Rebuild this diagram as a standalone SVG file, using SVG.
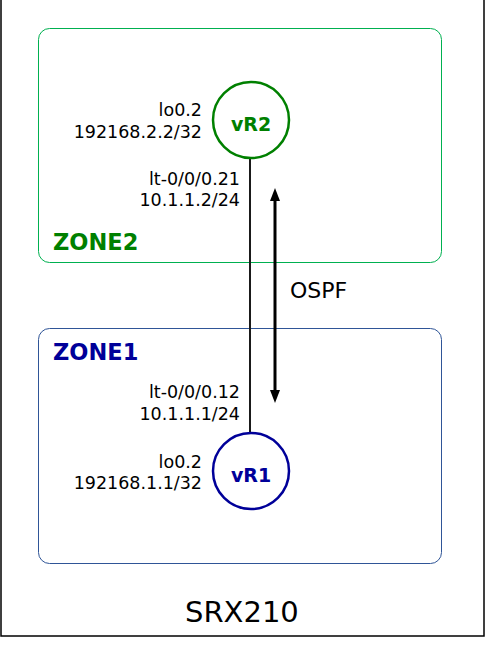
<svg xmlns="http://www.w3.org/2000/svg" width="486" height="651" viewBox="0 0 486 651">
<style>
text{font-family:"Comic Sans MS","DejaVu Sans",sans-serif}
.lbl{font-size:17.5px;fill:#000;text-anchor:end}
.zone{fill:#fff;stroke-width:1}
.node{fill:#fff;stroke-width:2.5}
.nt{font-size:19px;font-weight:bold;text-anchor:middle}
.zt{font-size:22.5px;font-weight:bold}
</style>
<defs>
<marker id="ah" markerWidth="13" markerHeight="10" refX="0" refY="5" viewBox="0 0 13 10" orient="auto-start-reverse" markerUnits="userSpaceOnUse">
<path d="M0,0 L13,5 L0,10 Z" fill="#000"/>
</marker>
</defs>
<rect x="0" y="0" width="486" height="651" fill="#fff"/>
<rect id="frame" x="1" y="-3" width="483" height="639" fill="none" stroke="#000" stroke-width="1.5"/>
<g id="zone2">
<rect class="zone" x="38.5" y="28.5" width="403" height="234" rx="11" stroke="#00b050"/>
<text class="zt" x="53" y="250" fill="#008000">ZONE2</text>
</g>
<g id="zone1">
<rect class="zone" x="38.5" y="328.5" width="403" height="235" rx="11" stroke="#2f5597"/>
<text class="zt" x="53" y="360" fill="#000099">ZONE1</text>
</g>
<g id="connectors">
<line x1="250" y1="158" x2="250" y2="434" stroke="#1a1a1a" stroke-width="2"/>
<line x1="275" y1="201" x2="275" y2="390" stroke="#000" stroke-width="3" marker-start="url(#ah)" marker-end="url(#ah)"/>
</g>
<g id="vR2">
<circle class="node" cx="251" cy="120" r="38" stroke="#008000"/>
<text class="nt" x="251" y="131" fill="#008000">vR2</text>
<text class="lbl" x="202" y="116">lo0.2</text>
<text class="lbl" x="202" y="138">192168.2.2/32</text>
<text class="lbl" x="240" y="185">lt-0/0/0.21</text>
<text class="lbl" x="240" y="206">10.1.1.2/24</text>
</g>
<g id="vR1">
<circle class="node" cx="251" cy="471" r="38" stroke="#000099"/>
<text class="nt" x="251" y="482" fill="#000099">vR1</text>
<text class="lbl" x="240" y="398">lt-0/0/0.12</text>
<text class="lbl" x="240" y="420">10.1.1.1/24</text>
<text class="lbl" x="202" y="468">lo0.2</text>
<text class="lbl" x="202" y="489">192168.1.1/32</text>
</g>
<text x="290" y="298" font-size="22" fill="#000">OSPF</text>
<text x="185" y="622" font-size="29" fill="#000">SRX210</text>
</svg>
